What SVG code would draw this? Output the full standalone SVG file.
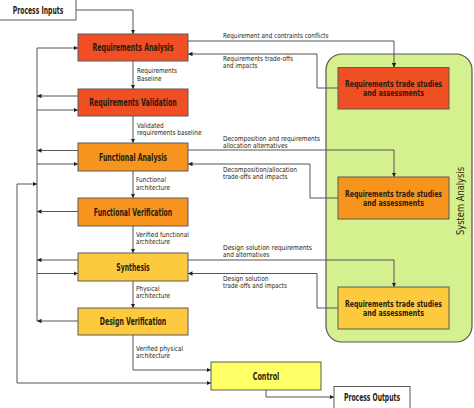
<svg xmlns="http://www.w3.org/2000/svg" width="474" height="408" viewBox="0 0 474 408">
<defs>
<style>
.box{stroke:#5a5a5a;stroke-width:1}
.red{fill:#f04e23}
.org{fill:#f7941d}
.yel{fill:#fdc93e}
.ctl{fill:#ffff66}
.wht{fill:#ffffff}
.t{font-family:"Liberation Sans Narrow","DejaVu Sans Condensed","Liberation Sans",sans-serif;font-weight:bold;font-size:10px;fill:#2a1c0c;text-anchor:middle}
.s{font-size:9px}
.l{font-family:"Liberation Sans Narrow","DejaVu Sans Condensed","Liberation Sans",sans-serif;font-size:7px;fill:#2a1c0c}
.c{fill:none;stroke:#555555;stroke-width:1}
</style>
<marker id="a" viewBox="0 0 5 5" refX="5" refY="2.5" markerWidth="4.5" markerHeight="4.5" markerUnits="userSpaceOnUse" orient="auto">
<path d="M0,0 L5,2.5 L0,5 z" fill="#222"/>
</marker>
</defs>
<rect width="474" height="408" fill="#ffffff"/>

<g id="system-analysis">
<rect x="326" y="54" width="146" height="288" rx="16" ry="16" fill="#d5f08e" stroke="#555555" stroke-width="1.2"/>
<text class="t" transform="translate(464,201) rotate(-90)" textLength="68" lengthAdjust="spacingAndGlyphs" style="font-weight:normal;font-size:10.5px">System Analysis</text>
</g>

<g id="connectors">
<path class="c" d="M76,10 H133 V34" marker-end="url(#a)"/>
<path class="c" d="M133,61 V89" marker-end="url(#a)"/>
<path class="c" d="M133,116 V143" marker-end="url(#a)"/>
<path class="c" d="M133,171 V198" marker-end="url(#a)"/>
<path class="c" d="M133,226 V253" marker-end="url(#a)"/>
<path class="c" d="M133,281 V308" marker-end="url(#a)"/>
<path class="c" d="M133,335 V370 H211" marker-end="url(#a)"/>
<path class="c" d="M266,390 V397 H334" marker-end="url(#a)"/>
<path class="c" d="M37,321 V48 H78" marker-end="url(#a)"/>
<path class="c" d="M78,96 H37" marker-end="url(#a)"/>
<path class="c" d="M37,110 H78" marker-end="url(#a)"/>
<path class="c" d="M78,150.5 H37" marker-end="url(#a)"/>
<path class="c" d="M37,164 H78" marker-end="url(#a)"/>
<path class="c" d="M78,211.5 H37" marker-end="url(#a)"/>
<path class="c" d="M78,260 H37" marker-end="url(#a)"/>
<path class="c" d="M37,273.5 H78" marker-end="url(#a)"/>
<path class="c" d="M78,321 H37" marker-end="url(#a)"/>
<path class="c" d="M17,184 H37" marker-end="url(#a)"/>
<path class="c" d="M17,184 V383 H211" marker-end="url(#a)"/>
<path class="c" d="M188,41 H394 V67.5" marker-end="url(#a)"/>
<path class="c" d="M338,88 H317 V54 H188" marker-end="url(#a)"/>
<path class="c" d="M188,150 H394 V177" marker-end="url(#a)"/>
<path class="c" d="M338,198 H310 V164 H188" marker-end="url(#a)"/>
<path class="c" d="M188,260 H394 V287" marker-end="url(#a)"/>
<path class="c" d="M338,308 H317 V273.5 H188" marker-end="url(#a)"/>
</g>

<g id="labels">
<text class="l" x="223" y="37.5" textLength="105.5" lengthAdjust="spacingAndGlyphs">Requirement and contraints conflicts</text>
<text class="l" x="223" y="61" textLength="70" lengthAdjust="spacingAndGlyphs">Requirements trade-offs</text>
<text class="l" x="223" y="68" textLength="34.5" lengthAdjust="spacingAndGlyphs">and impacts</text>
<text class="l" x="223" y="140.5" textLength="97" lengthAdjust="spacingAndGlyphs">Decomposition and requirements</text>
<text class="l" x="223" y="147.5" textLength="64.5" lengthAdjust="spacingAndGlyphs">allocation alternatives</text>
<text class="l" x="223" y="171.5" textLength="74" lengthAdjust="spacingAndGlyphs">Decomposition/allocation</text>
<text class="l" x="223" y="178.5" textLength="64.5" lengthAdjust="spacingAndGlyphs">trade-offs and impacts</text>
<text class="l" x="223" y="250" textLength="89" lengthAdjust="spacingAndGlyphs">Design solution requirements</text>
<text class="l" x="223" y="257" textLength="46.5" lengthAdjust="spacingAndGlyphs">and alternatives</text>
<text class="l" x="223" y="280.5" textLength="45.5" lengthAdjust="spacingAndGlyphs">Design solution</text>
<text class="l" x="223" y="287.5" textLength="64" lengthAdjust="spacingAndGlyphs">trade-offs and impacts</text>
<text class="l" x="137" y="73" textLength="40" lengthAdjust="spacingAndGlyphs">Requirements</text>
<text class="l" x="137" y="80.5" textLength="24.5" lengthAdjust="spacingAndGlyphs">Baseline</text>
<text class="l" x="137" y="127.5" textLength="26.5" lengthAdjust="spacingAndGlyphs">Validated</text>
<text class="l" x="137" y="134.5" textLength="64.5" lengthAdjust="spacingAndGlyphs">requirements baseline</text>
<text class="l" x="136" y="182" textLength="30" lengthAdjust="spacingAndGlyphs">Functional</text>
<text class="l" x="136" y="189.5" textLength="34" lengthAdjust="spacingAndGlyphs">architecture</text>
<text class="l" x="136" y="237" textLength="53" lengthAdjust="spacingAndGlyphs">Verified functional</text>
<text class="l" x="136" y="244" textLength="34" lengthAdjust="spacingAndGlyphs">architecture</text>
<text class="l" x="136" y="291" textLength="23.5" lengthAdjust="spacingAndGlyphs">Physical</text>
<text class="l" x="136" y="298" textLength="34" lengthAdjust="spacingAndGlyphs">architecture</text>
<text class="l" x="136" y="350.5" textLength="47" lengthAdjust="spacingAndGlyphs">Verified physical</text>
<text class="l" x="136" y="357.5" textLength="34" lengthAdjust="spacingAndGlyphs">architecture</text>
</g>

<g id="process-inputs">
<rect class="box wht" x="-1" y="-1" width="77" height="21"/>
<text class="t" x="38" y="13.5" textLength="50.5" lengthAdjust="spacingAndGlyphs">Process Inputs</text>
</g>
<g id="requirements-analysis">
<rect class="box red" x="78" y="34" width="110" height="27"/>
<text class="t" x="133" y="51" textLength="81" lengthAdjust="spacingAndGlyphs">Requirements Analysis</text>
</g>
<g id="requirements-validation">
<rect class="box red" x="78" y="89" width="110" height="27"/>
<text class="t" x="133" y="106" textLength="87.5" lengthAdjust="spacingAndGlyphs">Requirements Validation</text>
</g>
<g id="functional-analysis">
<rect class="box org" x="78" y="143" width="110" height="28"/>
<text class="t" x="133" y="160.5" textLength="68" lengthAdjust="spacingAndGlyphs">Functional Analysis</text>
</g>
<g id="functional-verification">
<rect class="box org" x="78" y="198" width="110" height="28"/>
<text class="t" x="133" y="215.5" textLength="78.5" lengthAdjust="spacingAndGlyphs">Functional Verification</text>
</g>
<g id="synthesis">
<rect class="box yel" x="78" y="253" width="110" height="28"/>
<text class="t" x="133" y="270.5" textLength="33.5" lengthAdjust="spacingAndGlyphs">Synthesis</text>
</g>
<g id="design-verification">
<rect class="box yel" x="78" y="308" width="110" height="27"/>
<text class="t" x="133" y="325" textLength="66.5" lengthAdjust="spacingAndGlyphs">Design Verification</text>
</g>
<g id="control">
<rect class="box ctl" x="211" y="362" width="110" height="28"/>
<text class="t" x="266" y="379.5" textLength="26.5" lengthAdjust="spacingAndGlyphs">Control</text>
</g>
<g id="process-outputs">
<rect class="box wht" x="334" y="386.5" width="76" height="23"/>
<text class="t" x="372" y="400.5" textLength="56" lengthAdjust="spacingAndGlyphs">Process Outputs</text>
</g>
<g id="trade-study-1">
<rect class="box red" x="338" y="67.5" width="111" height="41.5"/>
<text class="t s" x="393.5" y="87" textLength="97" lengthAdjust="spacingAndGlyphs">Requirements trade studies</text>
<text class="t s" x="393.5" y="96" textLength="61" lengthAdjust="spacingAndGlyphs">and assessments</text>
</g>
<g id="trade-study-2">
<rect class="box org" x="338" y="177" width="111" height="42"/>
<text class="t s" x="393.5" y="196.5" textLength="97" lengthAdjust="spacingAndGlyphs">Requirements trade studies</text>
<text class="t s" x="393.5" y="205.5" textLength="61" lengthAdjust="spacingAndGlyphs">and assessments</text>
</g>
<g id="trade-study-3">
<rect class="box yel" x="338" y="287" width="111" height="42"/>
<text class="t s" x="393.5" y="306.5" textLength="97" lengthAdjust="spacingAndGlyphs">Requirements trade studies</text>
<text class="t s" x="393.5" y="315.5" textLength="61" lengthAdjust="spacingAndGlyphs">and assessments</text>
</g>
</svg>
